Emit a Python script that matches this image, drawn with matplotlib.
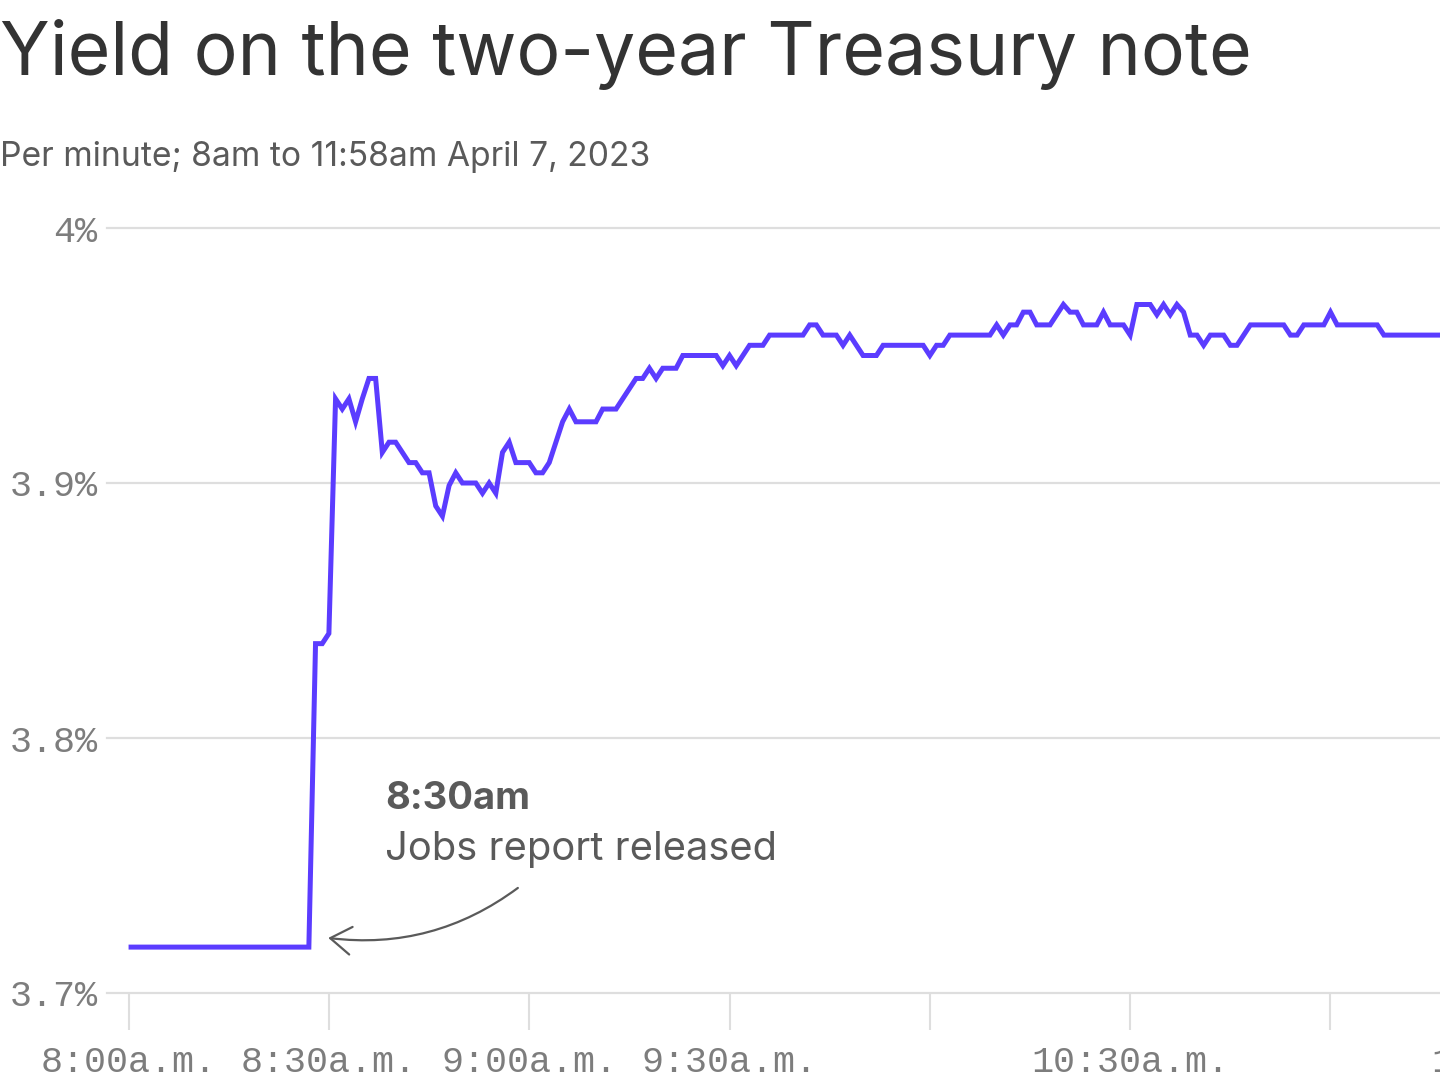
import numpy as np
import matplotlib
matplotlib.use("Agg")
import matplotlib.pyplot as plt

# ---------------- data ----------------
# yield (%) per minute starting 8:00am
pre_release = [3.718] * 28          # 8:00 .. 8:27
post_release = [
    3.837, 3.837, 3.841, 3.933, 3.929, 3.933, 3.924, 3.933, 3.941, 3.941,   # 8:28-8:37
    3.912, 3.916, 3.916, 3.912, 3.908, 3.908, 3.904, 3.904, 3.891, 3.887,   # 8:38-8:47
    3.899, 3.904, 3.900, 3.900, 3.900, 3.896, 3.900, 3.896, 3.912, 3.916,   # 8:48-8:57
    3.908, 3.908, 3.908, 3.904, 3.904, 3.908, 3.916, 3.924, 3.929, 3.924,   # 8:58-9:07
    3.924, 3.924, 3.924, 3.929, 3.929, 3.929, 3.933, 3.937, 3.941, 3.941,   # 9:08-9:17
    3.945, 3.941, 3.945, 3.945, 3.945, 3.950, 3.950, 3.950, 3.950, 3.950,   # 9:18-9:27
    3.950, 3.946, 3.950, 3.946, 3.950, 3.954, 3.954, 3.954, 3.958, 3.958,   # 9:28-9:37
    3.958, 3.958, 3.958, 3.958, 3.962, 3.962, 3.958, 3.958, 3.958, 3.954,   # 9:38-9:47
    3.958, 3.954, 3.950, 3.950, 3.950, 3.954, 3.954, 3.954, 3.954, 3.954,   # 9:48-9:57
    3.954, 3.954, 3.950, 3.954, 3.954, 3.958, 3.958, 3.958, 3.958, 3.958,   # 9:58-10:07
    3.958, 3.958, 3.962, 3.958, 3.962, 3.962, 3.967, 3.967, 3.962, 3.962,   # 10:08-10:17
    3.962, 3.966, 3.970, 3.967, 3.967, 3.962, 3.962, 3.962, 3.967, 3.962,   # 10:18-10:27
    3.962, 3.962, 3.958, 3.970, 3.970, 3.970, 3.966, 3.970, 3.966, 3.970,   # 10:28-10:37
    3.967, 3.958, 3.958, 3.954, 3.958, 3.958, 3.958, 3.954, 3.954, 3.958,   # 10:38-10:47
    3.962, 3.962, 3.962, 3.962, 3.962, 3.962, 3.958, 3.958, 3.962, 3.962,   # 10:48-10:57
    3.962, 3.962, 3.967, 3.962, 3.962, 3.962, 3.962, 3.962, 3.962, 3.962,   # 10:58-11:07
    3.958, 3.958, 3.958, 3.958, 3.958, 3.958, 3.958, 3.958, 3.958, 3.958,   # 11:08-11:17
]
yield_pct = np.array(pre_release + post_release)
minutes = np.arange(len(yield_pct))          # minutes after 8:00am

xtick_minutes = [0, 30, 60, 90, 120, 150, 180]
xtick_labels = ["8:00a.m.", "8:30a.m.", "9:00a.m.", "9:30a.m.", "", "10:30a.m.", ""]
extra_label_minute = 210
extra_label = "11:30a.m."
ytick_values = [3.7, 3.8, 3.9, 4.0]
ytick_labels = ["3.7%", "3.8%", "3.9%", "4%"]

title = "Yield on the two-year Treasury note"
subtitle = "Per minute; 8am to 11:58am April 7, 2023"
note_bold = "8:30am"
note_text = "Jobs report released"

# ---------------- style ----------------
SANS = ["Inter", "DejaVu Sans"]
MONO = ["Liberation Mono", "DejaVu Sans Mono"]
LINE = "#5b3cff"
GRID = "#dedede"
TICKTXT = "#7d7d7d"
TICKFS = 26.5
TICKLEN = 26.5
TICKPAD = 11

fig = plt.figure(figsize=(14.4, 10.8), dpi=100)
ax = fig.add_axes([107 / 1440, 1 - 993 / 1080, 1 - 107 / 1440, (993 - 228) / 1080])

ax.plot(minutes, yield_pct, color=LINE, lw=3.6, solid_joinstyle="miter",
        solid_capstyle="butt", zorder=3)

ax.set_xlim(-3.23, 196.4)
ax.set_ylim(3.7, 4.0)

for s in ax.spines.values():
    s.set_visible(False)

ax.set_yticks(ytick_values)
ax.set_yticklabels(ytick_labels, family=MONO, fontsize=TICKFS, color=TICKTXT)
ax.tick_params(axis="y", length=0, pad=7)
ax.grid(axis="y", color=GRID, lw=1.6, zorder=0)
for gl in ax.get_ygridlines():
    gl.set_clip_on(False)

ax.set_xticks(xtick_minutes)
ax.set_xticklabels(xtick_labels, family=MONO, fontsize=TICKFS, color=TICKTXT)
ax.tick_params(axis="x", length=TICKLEN, width=1.5, color=GRID, direction="out", pad=TICKPAD)

# tick label of 11:30 lies mostly beyond the right edge of the figure
ax.annotate(extra_label, xy=(extra_label_minute, 0), xycoords=("data", "axes fraction"),
            xytext=(0, -(TICKLEN + TICKPAD)), textcoords="offset points",
            family=MONO, fontsize=TICKFS, color=TICKTXT, ha="center", va="top",
            annotation_clip=False)

# annotation
ax.text(38.4, 3.772, note_bold, family=SANS, fontsize=27.5, fontweight="bold",
        color="#5a5a5a", ha="left", va="baseline")
ax.text(38.4, 3.752, note_text, family=SANS, fontsize=28.7,
        color="#5a5a5a", ha="left", va="baseline")
ax.annotate("", xy=(29.9, 3.7216), xytext=(58.3, 3.7412),
            arrowprops=dict(arrowstyle="->,head_length=0.6,head_width=0.4",
                            connectionstyle="arc3,rad=-0.2", color="#5a5a5a",
                            lw=1.6, shrinkA=0, shrinkB=0, mutation_scale=25))

fig.text(0.0, 1 - 75 / 1080, title, family=SANS, fontsize=52.8, color="#333333",
         ha="left", va="baseline")
fig.text(0.0, 1 - 166 / 1080, subtitle, family=SANS, fontsize=24.2, color="#5a5a5a",
         ha="left", va="baseline")

fig.savefig("out.png", dpi=100)
